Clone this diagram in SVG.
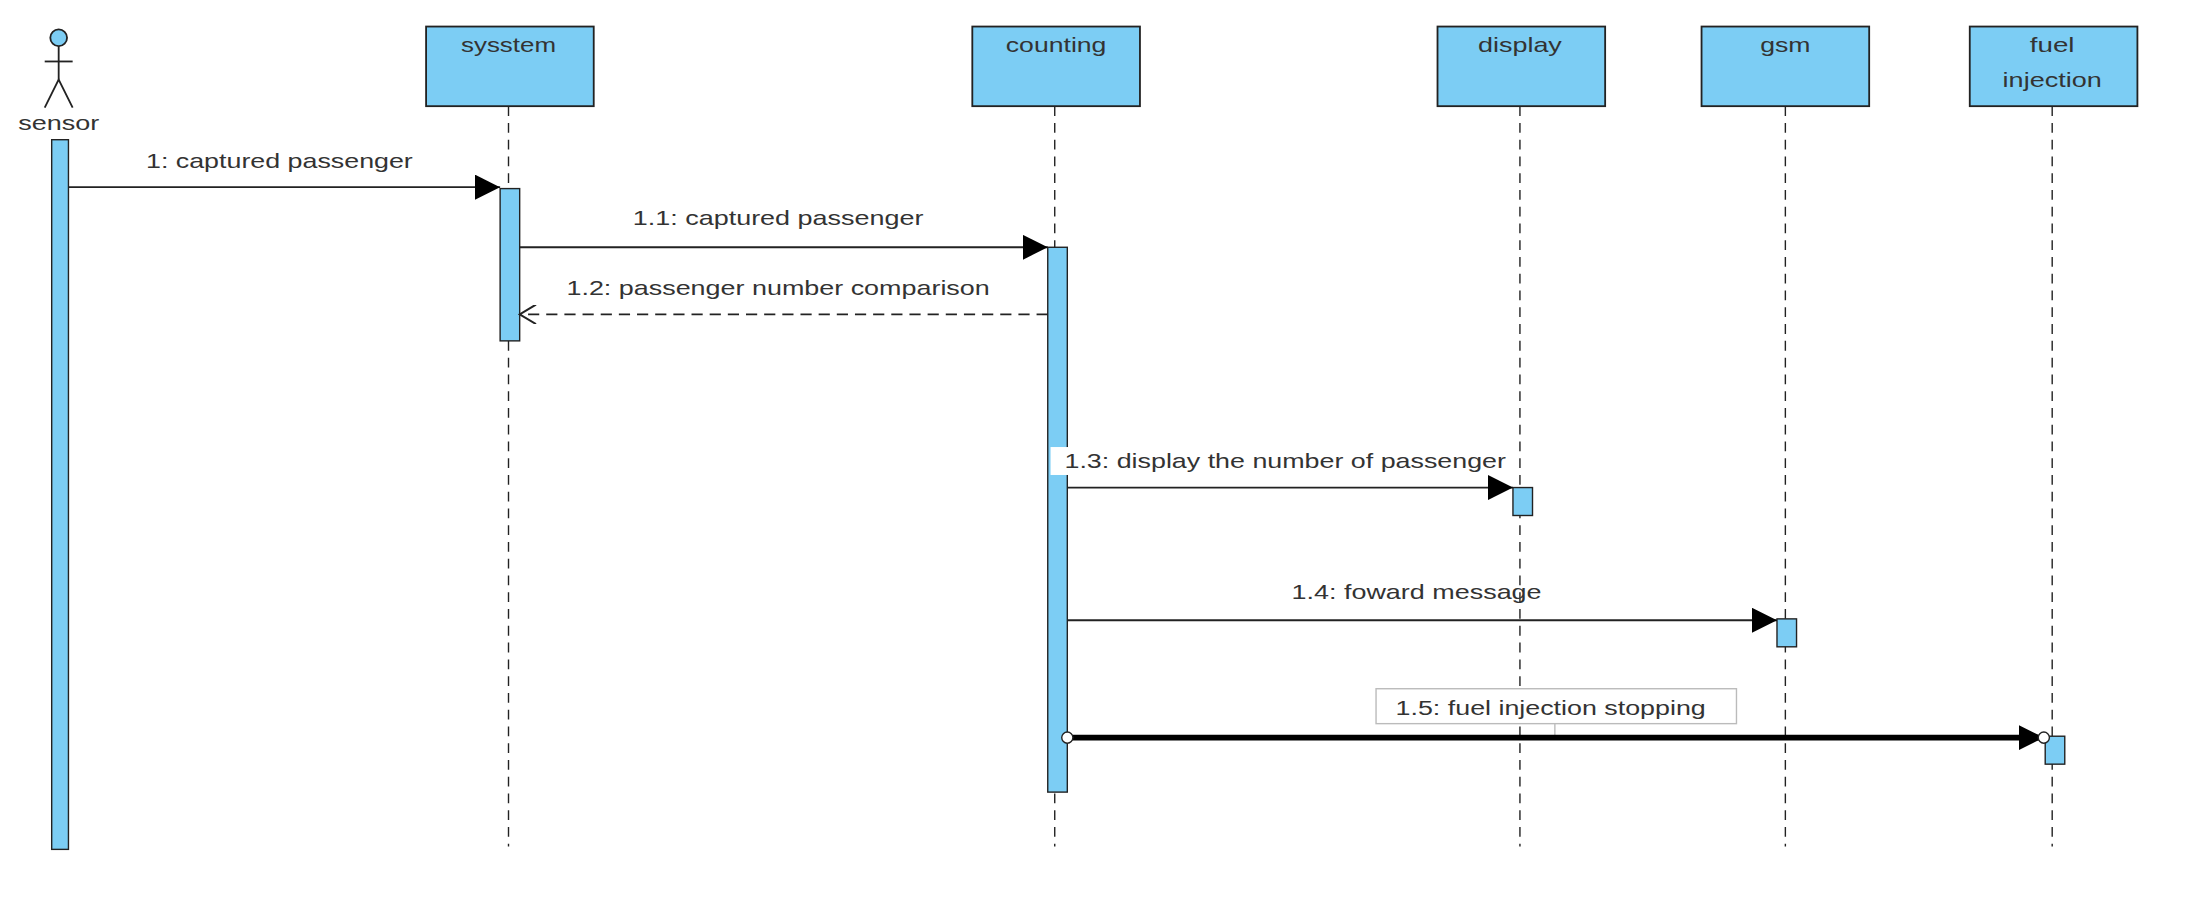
<svg xmlns="http://www.w3.org/2000/svg" width="2187" height="903" viewBox="0 0 2187 903">
<defs>
<style>
.box{fill:#7ccdf4;stroke:#222;stroke-width:1.3}
.act{fill:#7ccdf4;stroke:#222;stroke-width:1}
.life{stroke:#222;stroke-width:1;stroke-dasharray:7,5;fill:none}
.msg{stroke:#222;stroke-width:1.3;fill:none}
text{font-family:"Liberation Sans",Arial,sans-serif;font-size:15px;fill:#333;text-anchor:middle}
</style>
<marker id="tri" viewBox="0 0 12 12" refX="12" refY="6" markerWidth="18" markerHeight="18" markerUnits="userSpaceOnUse" orient="auto"><path d="M0,0 L12,6 L0,12 z" fill="#000"/></marker>
<marker id="open" viewBox="0 0 12 12" refX="11" refY="6" markerWidth="14" markerHeight="14" markerUnits="userSpaceOnUse" orient="auto"><path d="M1,0 L11,6 L1,12" fill="none" stroke="#222" stroke-width="1.2"/></marker>
</defs>
<rect width="2187" height="903" fill="#fff"/>
<g transform="scale(1.397)">
<g id="sensor">
<circle cx="42" cy="27" r="6" class="box"/>
<line x1="42" y1="33" x2="42" y2="57" class="msg"/>
<line x1="32" y1="44" x2="52" y2="44" class="msg"/>
<path d="M32,77 L42,57 L52,77" class="msg"/>
<text x="42" y="93" textLength="58" lengthAdjust="spacingAndGlyphs">sensor</text>
<rect x="37" y="100" width="12" height="508" class="act"/>
</g>
<g id="systtem">
<rect x="305" y="19" width="120" height="57" class="box"/>
<text x="364" y="37" textLength="68" lengthAdjust="spacingAndGlyphs">sysstem</text>
<line x1="364" y1="76" x2="364" y2="606" class="life"/>
<rect x="358" y="135" width="14" height="109" class="act"/>
</g>
<g id="counting">
<rect x="696" y="19" width="120" height="57" class="box"/>
<text x="756" y="37" textLength="72" lengthAdjust="spacingAndGlyphs">counting</text>
<line x1="755" y1="76" x2="755" y2="606" class="life"/>
<rect x="750" y="177" width="14" height="390" class="act"/>
</g>
<g id="display">
<rect x="1029" y="19" width="120" height="57" class="box"/>
<text x="1088" y="37" textLength="60" lengthAdjust="spacingAndGlyphs">display</text>
<line x1="1088" y1="76" x2="1088" y2="606" class="life"/>
<rect x="1083" y="349" width="14" height="20" class="act"/>
</g>
<g id="gsm">
<rect x="1218" y="19" width="120" height="57" class="box"/>
<text x="1278" y="37" textLength="36" lengthAdjust="spacingAndGlyphs">gsm</text>
<line x1="1278" y1="76" x2="1278" y2="606" class="life"/>
<rect x="1272" y="443" width="14" height="20" class="act"/>
</g>
<g id="fuel">
<rect x="1410" y="19" width="120" height="57" class="box"/>
<text x="1469" y="37" textLength="32" lengthAdjust="spacingAndGlyphs">fuel</text>
<text x="1469" y="62" textLength="71" lengthAdjust="spacingAndGlyphs">injection</text>
<line x1="1469" y1="76" x2="1469" y2="606" class="life"/>
<rect x="1464" y="527" width="14" height="20" class="act"/>
</g>
<g id="connectors">
<line x1="49" y1="134" x2="358" y2="134" class="msg" marker-end="url(#tri)"/>
<text x="200" y="120" textLength="191" lengthAdjust="spacingAndGlyphs">1: captured passenger</text>
<line x1="372" y1="177" x2="750" y2="177" class="msg" marker-end="url(#tri)"/>
<text x="557" y="161" textLength="208" lengthAdjust="spacingAndGlyphs">1.1: captured passenger</text>
<line x1="750" y1="225" x2="372" y2="225" class="msg" stroke-dasharray="8,5" marker-end="url(#open)"/>
<text x="557" y="211" textLength="303" lengthAdjust="spacingAndGlyphs">1.2: passenger number comparison</text>
<rect x="752" y="320" width="330" height="20" fill="#fff"/>
<text x="920" y="335" textLength="316" lengthAdjust="spacingAndGlyphs">1.3: display the number of passenger</text>
<line x1="764" y1="349" x2="1083" y2="349" class="msg" marker-end="url(#tri)"/>
<text x="1014" y="429" textLength="179" lengthAdjust="spacingAndGlyphs">1.4: foward message</text>
<line x1="764" y1="444" x2="1272" y2="444" class="msg" marker-end="url(#tri)"/>
<rect x="985" y="493" width="258" height="25" fill="#fff" stroke="#bbb" stroke-width="1"/>
<text x="1110" y="512" textLength="222" lengthAdjust="spacingAndGlyphs">1.5: fuel injection stopping</text>
<line x1="1113" y1="518" x2="1113" y2="527" stroke="#bbb" stroke-width="1"/>
<line x1="764" y1="528" x2="1463" y2="528" stroke="#000" stroke-width="4" marker-end="url(#tri)"/>
<circle cx="764" cy="528" r="4" fill="#fff" stroke="#222"/>
<circle cx="1463" cy="528" r="4" fill="#fff" stroke="#222"/>
</g>
</g>
</svg>
